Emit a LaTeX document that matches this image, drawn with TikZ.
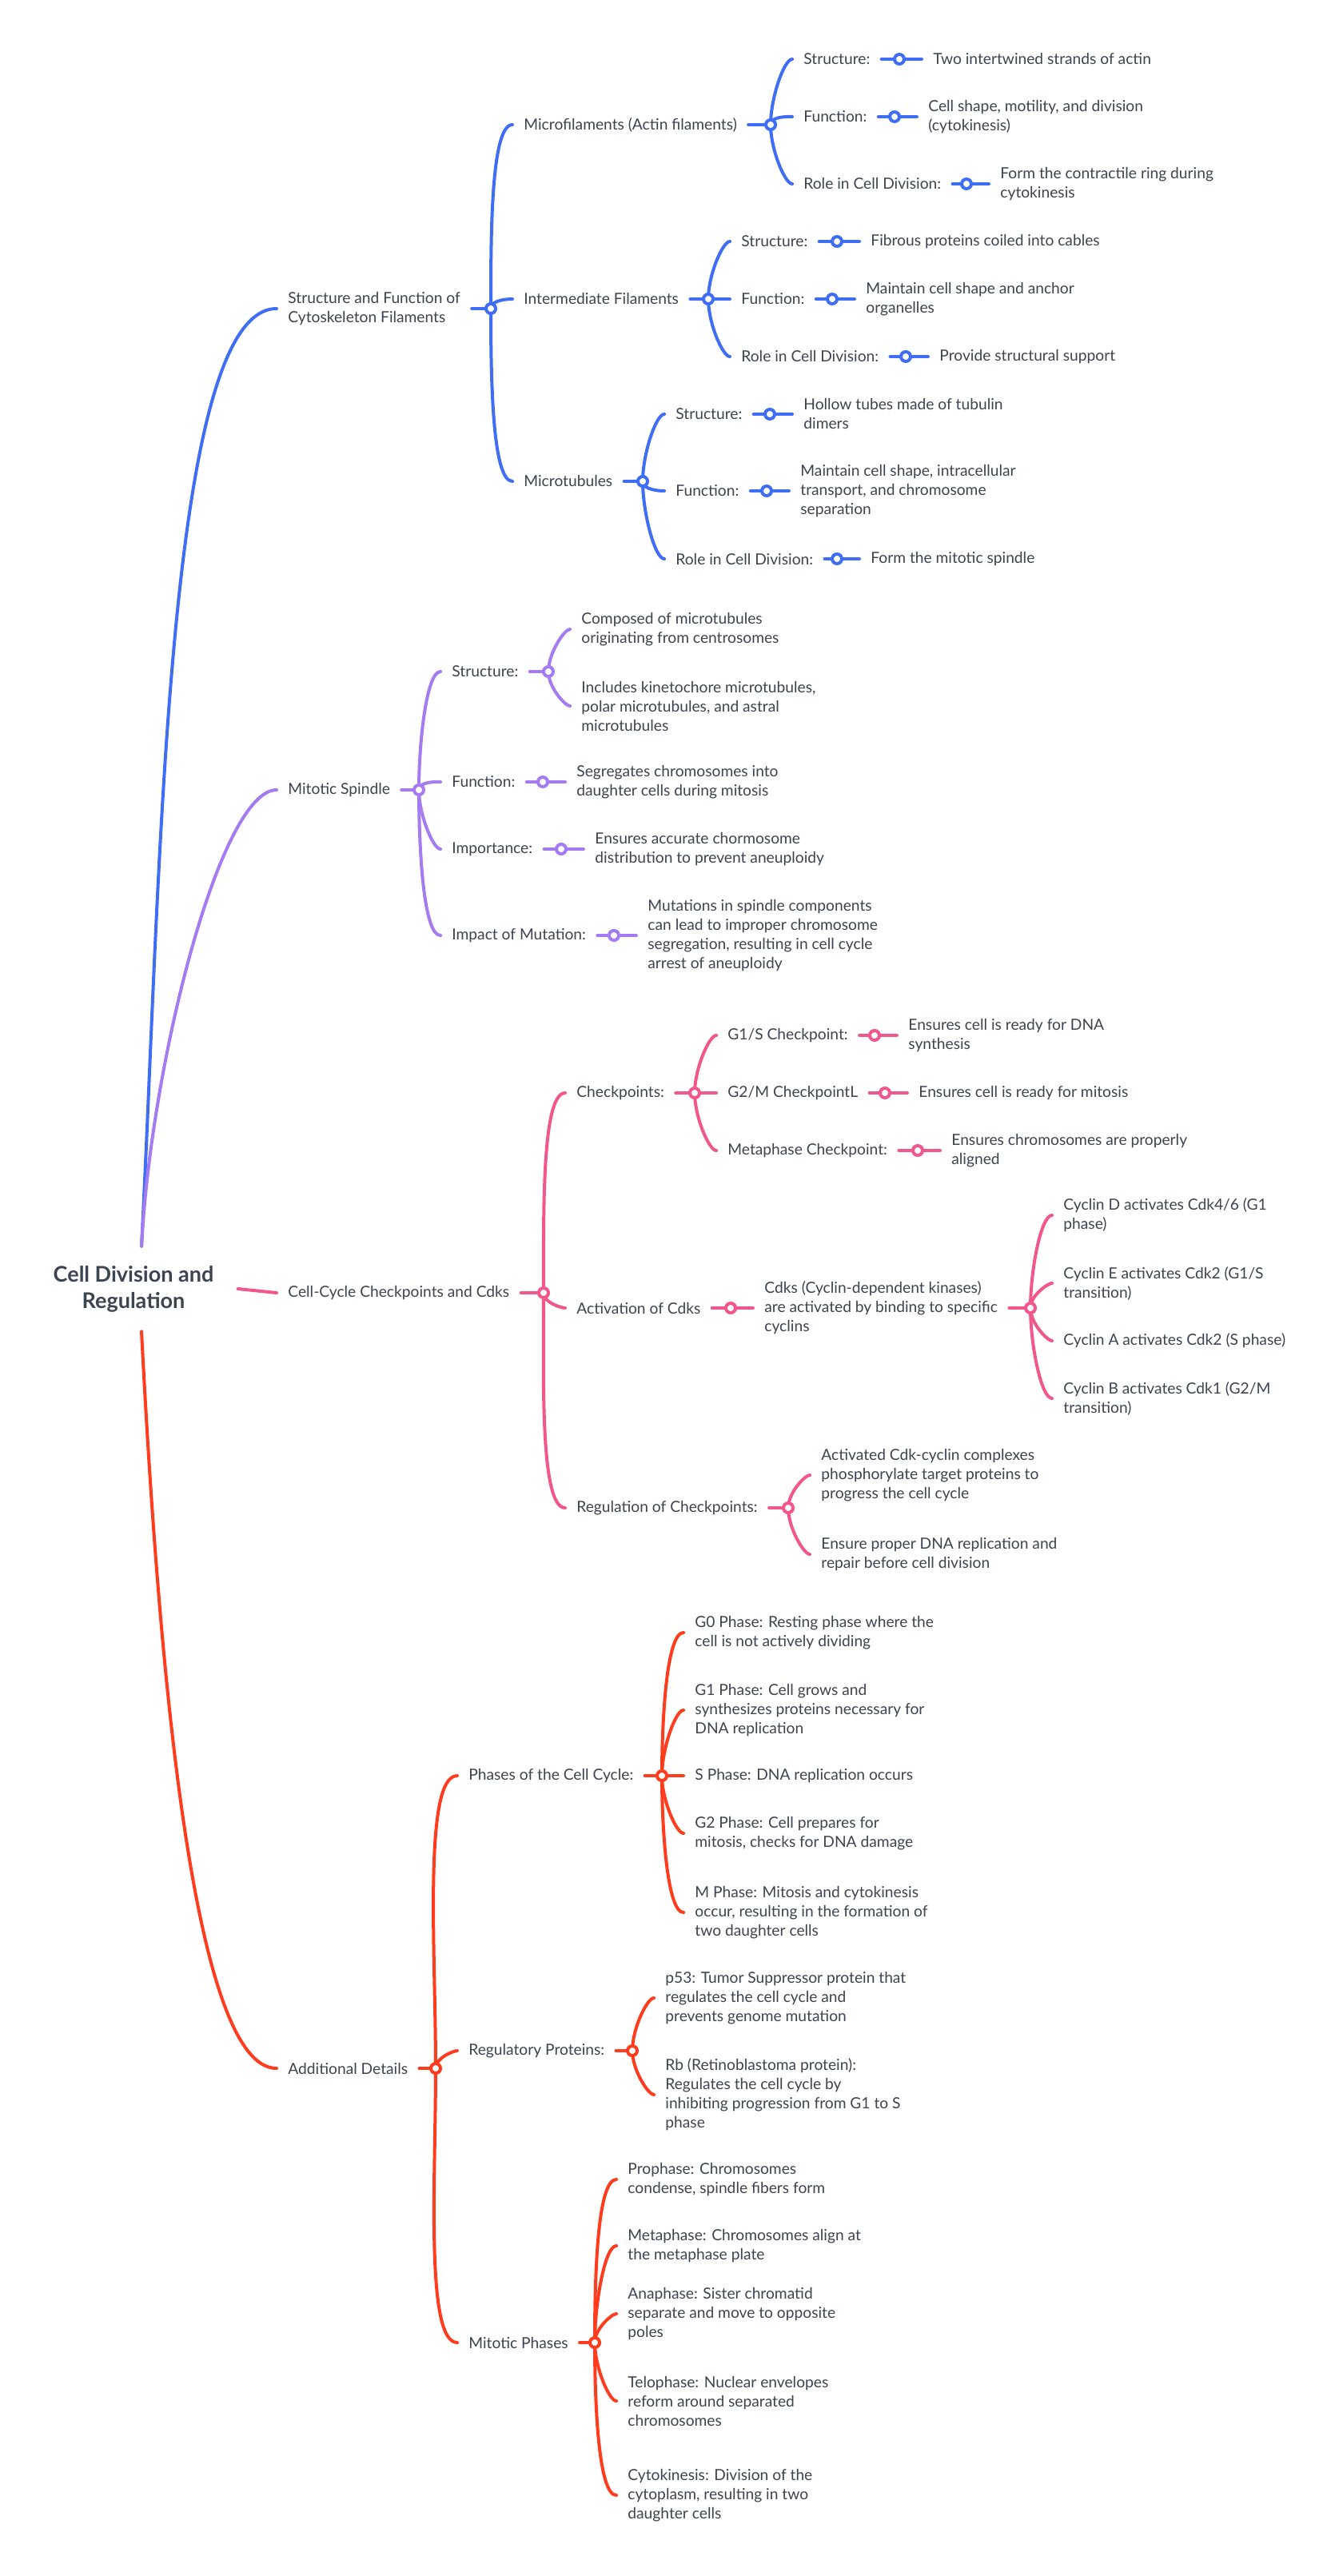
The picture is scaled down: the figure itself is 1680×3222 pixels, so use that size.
\documentclass[tikz,border=0pt]{standalone}
\usepackage{fontspec}
\setmainfont{Lato}
\definecolor{ink}{HTML}{3C4451}
\definecolor{cyto}{HTML}{3F6EF4}
\definecolor{spin}{HTML}{A47BF1}
\definecolor{chk}{HTML}{F2578C}
\definecolor{extra}{HTML}{FF3D1E}
\tikzset{
  lbl/.style={anchor=west, inner xsep=7pt, inner ysep=0pt, align=left, text=ink,
    font=\fontsize{9.6}{12}\selectfont},
  rootlbl/.style={align=center, text=ink, inner xsep=15pt, inner ysep=12pt,
    font=\fontsize{13.5}{16.5}\selectfont\bfseries},
  link/.style={line width=2pt, line cap=round},
  brup/.style={out=90, in=180, out looseness=1, in looseness=0.3},
  brdn/.style={out=-90, in=180, out looseness=1, in looseness=0.3},
  trunkup/.style={out=87, in=180, out looseness=1, in looseness=0.3},
  trunkdn/.style={out=-87, in=180, out looseness=1, in looseness=0.3},
}
\begin{document}
\begin{tikzpicture}[x=0.5pt, y=-0.5pt]
    \fill[white] (0,0) rectangle (1680,3222);
    \useasboundingbox (0,0) rectangle (1680,3222);

    % hubs
    \coordinate (hcyto) at (614,386);
    \coordinate (hmf) at (964,156);
    \coordinate (hmfS) at (1125,74);
    \coordinate (hmfF) at (1119,146);
    \coordinate (hmfR) at (1209,230);
    \coordinate (hitf) at (886,374);
    \coordinate (hitS) at (1047,302);
    \coordinate (hitF) at (1041,374);
    \coordinate (hitR) at (1133,446);
    \coordinate (hmt) at (804,602);
    \coordinate (hmtS) at (963,518);
    \coordinate (hmtF) at (959,614);
    \coordinate (hmtR) at (1047,699);

    \coordinate (hspin) at (524,988);
    \coordinate (hspS) at (686,840);
    \coordinate (hspF) at (679,978);
    \coordinate (hspI) at (702,1062);
    \coordinate (hspM) at (768,1170);

    \coordinate (hchk) at (680,1617);
    \coordinate (hck) at (869,1367);
    \coordinate (hg1s) at (1094,1295);
    \coordinate (hg2m) at (1107,1367);
    \coordinate (hmpc) at (1148,1439);
    \coordinate (hact) at (914,1636);
    \coordinate (hcyc) at (1289,1636);
    \coordinate (hreg) at (986,1886);

    \coordinate (had) at (545,2587);
    \coordinate (hph) at (828,2221);
    \coordinate (hrp) at (791,2565);
    \coordinate (hmp) at (744,2930);

    % root
    \node[rootlbl] (root) at (167,1612) {Cell Division and\\Regulation};

    % cytoskeleton
    \node[lbl] (cyto) at (346,386) {Structure and Function of\\Cytoskeleton Filaments};
    \node[lbl] (mf) at (641,156) {Microfilaments (Actin filaments)};
    \node[lbl] (mfS) at (991,74) {Structure:};
    \node[lbl] (mfSv) at (1153,74) {Two intertwined strands of actin};
    \node[lbl] (mfF) at (991,146) {Function:};
    \node[lbl] (mfFv) at (1147,146) {Cell shape, motility, and division\\(cytokinesis)};
    \node[lbl] (mfR) at (991,230) {Role in Cell Division:};
    \node[lbl] (mfRv) at (1237,230) {Form the contractile ring during\\cytokinesis};
    \node[lbl] (itf) at (641,374) {Intermediate Filaments};
    \node[lbl] (itS) at (913,302) {Structure:};
    \node[lbl] (itSv) at (1075,302) {Fibrous proteins coiled into cables};
    \node[lbl] (itF) at (913,374) {Function:};
    \node[lbl] (itFv) at (1069,374) {Maintain cell shape and anchor\\organelles};
    \node[lbl] (itR) at (913,446) {Role in Cell Division:};
    \node[lbl] (itRv) at (1161,446) {Provide structural support};
    \node[lbl] (mt) at (641,602) {Microtubules};
    \node[lbl] (mtS) at (831,518) {Structure:};
    \node[lbl] (mtSv) at (991,518) {Hollow tubes made of tubulin\\dimers};
    \node[lbl] (mtF) at (831,614) {Function:};
    \node[lbl] (mtFv) at (987,614) {Maintain cell shape, intracellular\\transport, and chromosome\\separation};
    \node[lbl] (mtR) at (831,699) {Role in Cell Division:};
    \node[lbl] (mtRv) at (1075,699) {Form the mitotic spindle};

    % spindle
    \node[lbl] (spin) at (346,988) {Mitotic Spindle};
    \node[lbl] (spS) at (551,840) {Structure:};
    \node[lbl] (spS1) at (713,787) {Composed of microtubules\\originating from centrosomes};
    \node[lbl] (spS2) at (713,883) {Includes kinetochore microtubules,\\polar microtubules, and astral\\microtubules};
    \node[lbl] (spF) at (551,978) {Function:};
    \node[lbl] (spFv) at (707,978) {Segregates chromosomes into\\daughter cells during mitosis};
    \node[lbl] (spI) at (551,1062) {Importance:};
    \node[lbl] (spIv) at (730,1062) {Ensures accurate chormosome\\distribution to prevent aneuploidy};
    \node[lbl] (spM) at (551,1170) {Impact of Mutation:};
    \node[lbl] (spMv) at (796,1170) {Mutations in spindle components\\can lead to improper chromosome\\segregation, resulting in cell cycle\\arrest of aneuploidy};

    % checkpoints
    \node[lbl] (chk) at (346,1617) {Cell-Cycle Checkpoints and Cdks};
    \node[lbl] (ck) at (707,1367) {Checkpoints:};
    \node[lbl] (g1s) at (896,1295) {G1/S Checkpoint:};
    \node[lbl] (g1sv) at (1122,1295) {Ensures cell is ready for DNA\\synthesis};
    \node[lbl] (g2m) at (896,1367) {G2/M CheckpointL};
    \node[lbl] (g2mv) at (1135,1367) {Ensures cell is ready for mitosis};
    \node[lbl] (mpc) at (896,1439) {Metaphase Checkpoint:};
    \node[lbl] (mpcv) at (1176,1439) {Ensures chromosomes are properly\\aligned};
    \node[lbl] (act) at (707,1636) {Activation of Cdks};
    \node[lbl] (actv) at (942,1636) {Cdks (Cyclin-dependent kinases)\\are activated by binding to specific\\cyclins};
    \node[lbl] (cycD) at (1316,1520) {Cyclin D activates Cdk4/6 (G1\\phase)};
    \node[lbl] (cycE) at (1316,1605) {Cyclin E activates Cdk2 (G1/S\\transition)};
    \node[lbl] (cycA) at (1316,1677) {Cyclin A activates Cdk2 (S phase)};
    \node[lbl] (cycB) at (1316,1749) {Cyclin B activates Cdk1 (G2/M\\transition)};
    \node[lbl] (reg) at (707,1886) {Regulation of Checkpoints:};
    \node[lbl] (reg1) at (1013,1845) {Activated Cdk-cyclin complexes\\phosphorylate target proteins to\\progress the cell cycle};
    \node[lbl] (reg2) at (1013,1944) {Ensure proper DNA replication and\\repair before cell division};

    % additional details
    \node[lbl] (ad) at (346,2587) {Additional Details};
    \node[lbl] (ph) at (572,2221) {Phases of the Cell Cycle:};
    \node[lbl] (phG0) at (855,2042) {G0 Phase: Resting phase where the\\cell is not actively dividing};
    \node[lbl] (phG1) at (855,2139) {G1 Phase: Cell grows and\\synthesizes proteins necessary for\\DNA replication};
    \node[lbl] (phS) at (855,2221) {S Phase: DNA replication occurs};
    \node[lbl] (phG2) at (855,2293) {G2 Phase: Cell prepares for\\mitosis, checks for DNA damage};
    \node[lbl] (phM) at (855,2392) {M Phase: Mitosis and cytokinesis\\occur, resulting in the formation of\\two daughter cells};
    \node[lbl] (rp) at (572,2565) {Regulatory Proteins:};
    \node[lbl] (rp1) at (818,2499) {p53: Tumor Suppressor protein that\\regulates the cell cycle and\\prevents genome mutation};
    \node[lbl] (rp2) at (818,2620) {Rb (Retinoblastoma protein):\\Regulates the cell cycle by\\inhibiting progression from G1 to S\\phase};
    \node[lbl] (mp) at (572,2930) {Mitotic Phases};
    \node[lbl] (mpP) at (771,2726) {Prophase: Chromosomes\\condense, spindle fibers form};
    \node[lbl] (mpM) at (771,2809) {Metaphase: Chromosomes align at\\the metaphase plate};
    \node[lbl] (mpA) at (771,2894) {Anaphase: Sister chromatid\\separate and move to opposite\\poles};
    \node[lbl] (mpT) at (771,3003) {Telophase: Nuclear envelopes\\reform around separated\\chromosomes};
    \node[lbl] (mpC) at (771,3121) {Cytokinesis: Division of the\\cytoplasm, resulting in two\\daughter cells};

    % connectors: cytoskeleton
    \begin{scope}[link, cyto]
        \draw ([xshift=5pt]root.north) to[trunkup] (cyto.west);
        \draw (cyto.east) -- (hcyto);
        \draw (hcyto) to[brup] (mf.west);
        \draw (hcyto) to[brup] (itf.west);
        \draw (hcyto) to[brdn] (mt.west);
        \draw (mf.east) -- (hmf);
        \draw (hmf) to[brup] (mfS.west);
        \draw (hmf) to[brup] (mfF.west);
        \draw (hmf) to[brdn] (mfR.west);
        \draw (itf.east) -- (hitf);
        \draw (hitf) to[brup] (itS.west);
        \draw (hitf) -- (itF.west);
        \draw (hitf) to[brdn] (itR.west);
        \draw (mt.east) -- (hmt);
        \draw (hmt) to[brup] (mtS.west);
        \draw (hmt) to[brdn] (mtF.west);
        \draw (hmt) to[brdn] (mtR.west);
        \draw (mfS.east) -- (mfSv.west);
        \draw (mfF.east) -- (mfFv.west);
        \draw (mfR.east) -- (mfRv.west);
        \draw (itS.east) -- (itSv.west);
        \draw (itF.east) -- (itFv.west);
        \draw (itR.east) -- (itRv.west);
        \draw (mtS.east) -- (mtSv.west);
        \draw (mtF.east) -- (mtFv.west);
        \draw (mtR.east) -- (mtRv.west);
    \end{scope}

    % connectors: spindle
    \begin{scope}[link, spin]
        \draw ([xshift=5pt]root.north) to[trunkup] (spin.west);
        \draw (spin.east) -- (hspin);
        \draw (hspin) to[brup] (spS.west);
        \draw (hspin) to[brup] (spF.west);
        \draw (hspin) to[brdn] (spI.west);
        \draw (hspin) to[brdn] (spM.west);
        \draw (spS.east) -- (hspS);
        \draw (hspS) to[brup] (spS1.west);
        \draw (hspS) to[brdn] (spS2.west);
        \draw (spF.east) -- (spFv.west);
        \draw (spI.east) -- (spIv.west);
        \draw (spM.east) -- (spMv.west);
    \end{scope}

    % connectors: checkpoints
    \begin{scope}[link, chk]
        \draw (root.east) -- (chk.west);
        \draw (chk.east) -- (hchk);
        \draw (hchk) to[brup] (ck.west);
        \draw (hchk) to[brdn] (act.west);
        \draw (hchk) to[brdn] (reg.west);
        \draw (ck.east) -- (hck);
        \draw (hck) to[brup] (g1s.west);
        \draw (hck) -- (g2m.west);
        \draw (hck) to[brdn] (mpc.west);
        \draw (g1s.east) -- (g1sv.west);
        \draw (g2m.east) -- (g2mv.west);
        \draw (mpc.east) -- (mpcv.west);
        \draw (act.east) -- (actv.west);
        \draw (actv.east) -- (hcyc);
        \draw (hcyc) to[brup] (cycD.west);
        \draw (hcyc) to[brup] (cycE.west);
        \draw (hcyc) to[brdn] (cycA.west);
        \draw (hcyc) to[brdn] (cycB.west);
        \draw (reg.east) -- (hreg);
        \draw (hreg) to[brup] (reg1.west);
        \draw (hreg) to[brdn] (reg2.west);
    \end{scope}

    % connectors: additional details
    \begin{scope}[link, extra]
        \draw ([xshift=5pt]root.south) to[trunkdn] (ad.west);
        \draw (ad.east) -- (had);
        \draw (had) to[brup] (ph.west);
        \draw (had) to[brup] (rp.west);
        \draw (had) to[brdn] (mp.west);
        \draw (ph.east) -- (hph);
        \draw (hph) to[brup] (phG0.west);
        \draw (hph) to[brup] (phG1.west);
        \draw (hph) -- (phS.west);
        \draw (hph) to[brdn] (phG2.west);
        \draw (hph) to[brdn] (phM.west);
        \draw (rp.east) -- (hrp);
        \draw (hrp) to[brup] (rp1.west);
        \draw (hrp) to[brdn] (rp2.west);
        \draw (mp.east) -- (hmp);
        \draw (hmp) to[brup] (mpP.west);
        \draw (hmp) to[brup] (mpM.west);
        \draw (hmp) to[brup] (mpA.west);
        \draw (hmp) to[brdn] (mpT.west);
        \draw (hmp) to[brdn] (mpC.west);
    \end{scope}

    % hub circles
    \foreach \h in {hcyto,hmf,hmfS,hmfF,hmfR,hitf,hitS,hitF,hitR,hmt,hmtS,hmtF,hmtR}
        \filldraw[link, cyto, fill=white] (\h) circle (3pt);
    \foreach \h in {hspin,hspS,hspF,hspI,hspM}
        \filldraw[link, spin, fill=white] (\h) circle (3pt);
    \foreach \h in {hchk,hck,hg1s,hg2m,hmpc,hact,hcyc,hreg}
        \filldraw[link, chk, fill=white] (\h) circle (3pt);
    \foreach \h in {had,hph,hrp,hmp}
        \filldraw[link, extra, fill=white] (\h) circle (3pt);
\end{tikzpicture}
\end{document}
